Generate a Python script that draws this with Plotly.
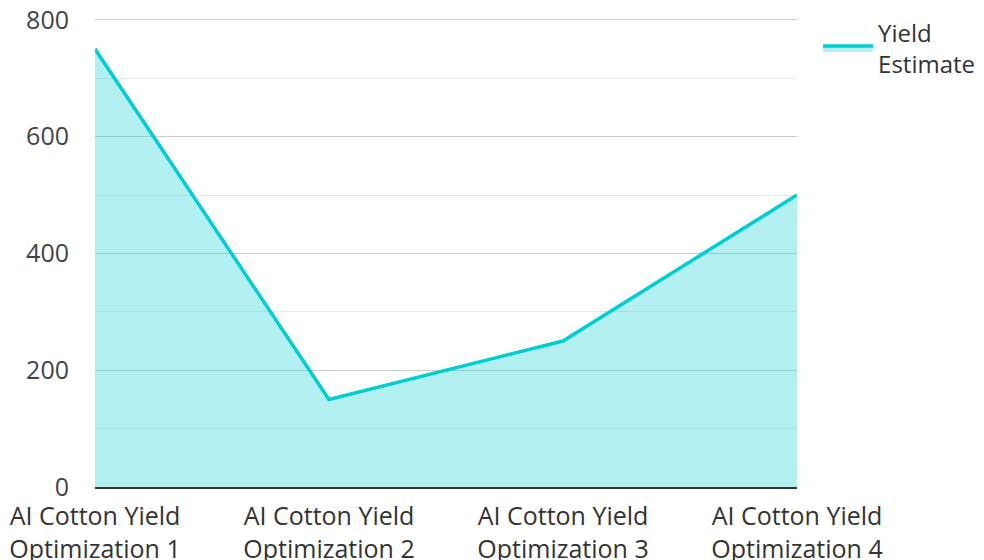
import plotly.graph_objects as go

categories = ["AI Cotton Yield<br>Optimization 1", "AI Cotton Yield<br>Optimization 2",
              "AI Cotton Yield<br>Optimization 3", "AI Cotton Yield<br>Optimization 4"]
yield_estimate = [750, 150, 250, 500]
series_name = "Yield<br>Estimate"
y_ticks = [0, 200, 400, 600, 800]

fig = go.Figure()
fig.add_trace(go.Scatter(
    x=categories, y=yield_estimate, name=series_name, mode="lines",
    line=dict(color="#00CED1", width=3.5),
    fill="tozeroy", fillcolor="rgba(0,206,209,0.3)",
))

fig.update_layout(
    width=984, height=560,
    margin=dict(l=87, r=195, t=6, b=81, autoexpand=False),
    paper_bgcolor="white", plot_bgcolor="white",
    font=dict(family="Open Sans, Noto Sans, sans-serif", size=25, color="#444"),
    showlegend=True,
    legend=dict(x=1.030, y=1.008, xanchor="left", yanchor="top", itemwidth=50,
                font=dict(size=24, color="#333"), bgcolor="rgba(0,0,0,0)"),
    xaxis=dict(range=[0, 3], showgrid=False, showline=True, linecolor="#333",
               linewidth=2, ticks="", tickfont=dict(color="#333"), zeroline=False,
               automargin=False, ticklabelstandoff=6, ticklabeloverflow="allow"),
    yaxis=dict(range=[0, 810], tickvals=y_ticks, showgrid=True, gridcolor="#cccccc",
               gridwidth=1, showline=False, zeroline=False, ticks="",
               ticklabelstandoff=25, automargin=False, ticklabeloverflow="allow",
               minor=dict(dtick=100, tick0=0, showgrid=True, gridcolor="#ebebeb", gridwidth=1)),
)

fig.write_html("out.html")
